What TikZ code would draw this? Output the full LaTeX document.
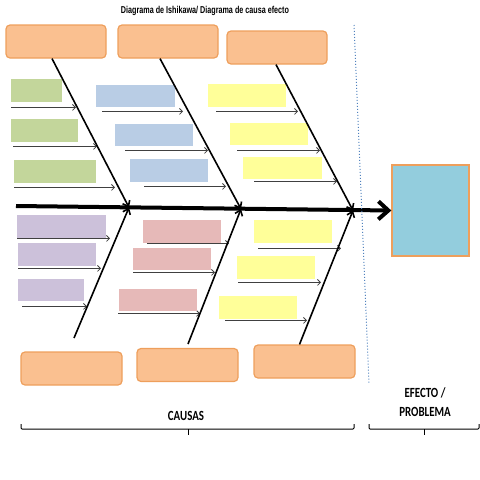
\documentclass[tikz,border=0pt]{standalone}
\usepackage{fontspec}
\newfontfamily\titlefont[FakeStretch=0.72]{Liberation Sans}
\newfontfamily\capfont[FakeStretch=0.78]{Carlito}
\usetikzlibrary{arrows.meta, backgrounds}
\definecolor{ishorange}{HTML}{FAC090}
\definecolor{ishedge}{HTML}{EE9F5C}
\definecolor{ishgreen}{HTML}{C3D69B}
\definecolor{ishblue}{HTML}{B9CDE5}
\definecolor{ishyellow}{HTML}{FFFF99}
\definecolor{ishpurple}{HTML}{CCC1DA}
\definecolor{ishpink}{HTML}{E6B9B8}
\definecolor{ishcyan}{HTML}{93CDDD}
\definecolor{ishdots}{HTML}{4F81BD}
\tikzset{
	catbox/.style={draw=ishedge, fill=ishorange, rounded corners=4pt, line width=1.2pt,
		minimum width=100pt, minimum height=33pt, inner sep=0pt},
	subbox/.style={anchor=north west, inner sep=0pt, minimum height=23pt},
	spine/.style={-{Straight Barb[length=10pt, width=18pt]}, line width=4pt},
	bone/.style={-{Straight Barb[length=5pt, width=8pt]}, line width=1.6pt},
	subarr/.style={-{Straight Barb[length=3pt, width=6pt]}, line width=0.8pt, draw=black!75},
	brk/.style={line width=1pt, rounded corners=1pt}
}

\begin{document}
\begin{tikzpicture}[x=1pt, y=-1pt]
	\useasboundingbox (0,0) rectangle (480,480);
	\node (title) at (205,11) {\titlefont\bfseries\fontsize{10}{12}\selectfont Diagrama de Ishikawa/ Diagrama de causa efecto};

	% categories
	\node[catbox] (t1) at (56,41.5) {};
	\node[catbox] (t2) at (168,41.5) {};
	\node[catbox] (t3) at (277,47.5) {};
	\node[catbox, minimum width=101pt] (b1) at (71.5,368.5) {};
	\node[catbox, minimum width=101pt] (b2) at (187.5,365) {};
	\node[catbox, minimum width=101pt] (b3) at (304.5,361.5) {};
	\node[draw=ishedge, fill=ishcyan, line width=1.3pt, minimum width=77pt, minimum height=91pt, inner sep=0pt] (fx) at (430.5,210.5) {};

	% sub causes
	\node[subbox, fill=ishgreen, minimum width=51pt] (g1) at (11,79) {};
	\node[subbox, fill=ishgreen, minimum width=67pt] (g2) at (11,119) {};
	\node[subbox, fill=ishgreen, minimum width=82pt] (g3) at (14,160) {};
	\node[subbox, fill=ishblue, minimum width=79pt, minimum height=22pt] (u1) at (96,85) {};
	\node[subbox, fill=ishblue, minimum width=78pt, minimum height=22pt] (u2) at (115,124) {};
	\node[subbox, fill=ishblue, minimum width=78pt] (u3) at (130,159) {};
	\node[subbox, fill=ishyellow, minimum width=78pt] (y1) at (208,84) {};
	\node[subbox, fill=ishyellow, minimum width=78pt, minimum height=22pt] (y2) at (230,123) {};
	\node[subbox, fill=ishyellow, minimum width=79pt, minimum height=22pt] (y3) at (243,157) {};
	\node[subbox, fill=ishpurple, minimum width=89pt] (p1) at (17,215) {};
	\node[subbox, fill=ishpurple, minimum width=78pt] (p2) at (18,243) {};
	\node[subbox, fill=ishpurple, minimum width=66pt, minimum height=22pt] (p3) at (18,279) {};
	\node[subbox, fill=ishpink, minimum width=78pt] (k1) at (143,220) {};
	\node[subbox, fill=ishpink, minimum width=78pt, minimum height=22pt] (k2) at (133,248) {};
	\node[subbox, fill=ishpink, minimum width=78pt, minimum height=22pt] (k3) at (119,289) {};
	\node[subbox, fill=ishyellow, minimum width=78pt] (y4) at (254,220) {};
	\node[subbox, fill=ishyellow, minimum width=78pt] (y5) at (237,256) {};
	\node[subbox, fill=ishyellow, minimum width=78pt] (y6) at (219,296) {};

	\begin{scope}[on background layer]
		\draw[subarr] ([shift={(0,5)}]g1.south west) -- ++(65,0);
		\draw[subarr] ([shift={(2,4)}]g2.south west) -- ++(84,0);
		\draw[subarr] ([shift={(0,4)}]g3.south west) -- ++(101,0);
		\draw[subarr] ([shift={(6,4)}]u1.south west) -- ++(81,0);
		\draw[subarr] ([shift={(10,4)}]u2.south west) -- ++(83,0);
		\draw[subarr] ([shift={(14,4)}]u3.south west) -- ++(82,0);
		\draw[subarr] ([shift={(8,4)}]y1.south west) -- ++(82,0);
		\draw[subarr] ([shift={(7,5)}]y2.south west) -- ++(83,0);
		\draw[subarr] ([shift={(11,2)}]y3.south west) -- ++(83,0);
		\draw[subarr] ([shift={(0,0)}]p1.south west) -- ++(93,0);
		\draw[subarr] ([shift={(0,2)}]p2.south west) -- ++(83,0);
		\draw[subarr] ([shift={(4,5)}]p3.south west) -- ++(65,0);
		\draw[subarr] ([shift={(4,0)}]k1.south west) -- ++(82,0);
		\draw[subarr] ([shift={(0,2)}]k2.south west) -- ++(82,0);
		\draw[subarr] ([shift={(-1,2)}]k3.south west) -- ++(82,0);
		\draw[subarr] ([shift={(4,5)}]y4.south west) -- ++(83,0);
		\draw[subarr] ([shift={(1,3)}]y5.south west) -- ++(83,0);
		\draw[subarr] ([shift={(6,1)}]y6.south west) -- ++(82,0);
	\end{scope}

	% spine and bones
	\coordinate (tail) at (16,206);
	\coordinate (j1) at (129,207.5);
	\coordinate (j2) at (241,209);
	\coordinate (j3) at (353,210.5);
	\coordinate (e1) at (74,338);
	\coordinate (e2) at (188,344);
	\draw[spine] (tail) -- (fx.west);
	\draw[bone] ([xshift=-4pt]t1.south) -- (j1);
	\draw[bone] ([xshift=-8pt]t2.south) -- (j2);
	\draw[bone] ([xshift=-1pt]t3.south) -- (j3);
	\draw[bone] (e1) -- (j1);
	\draw[bone] (e2) -- (j2);
	\draw[bone] ([xshift=-5pt]b3.north) -- (j3);

	% divider
	\coordinate (d1) at (354,25);
	\coordinate (d2) at (369,383);
	\draw[ishdots, dotted, line width=1pt] (d1) -- (d2);

	% labels
	\node[font=\capfont\bfseries\fontsize{14}{19.5}\selectfont] (causas) at (186,416) {CAUSAS};
	\node[font=\capfont\bfseries\fontsize{14}{19.5}\selectfont, align=center] (efecto) at (425,402) {EFECTO /\\PROBLEMA};
	\draw[brk] (21,424) -- (21,429) -- (354,429) -- (354,424);
	\draw[brk] (188,429) -- (188,435);
	\draw[brk] (369,424) -- (369,429) -- (479,429) -- (479,424);
	\draw[brk] (424,429) -- (424,435);
\end{tikzpicture}
\end{document}
